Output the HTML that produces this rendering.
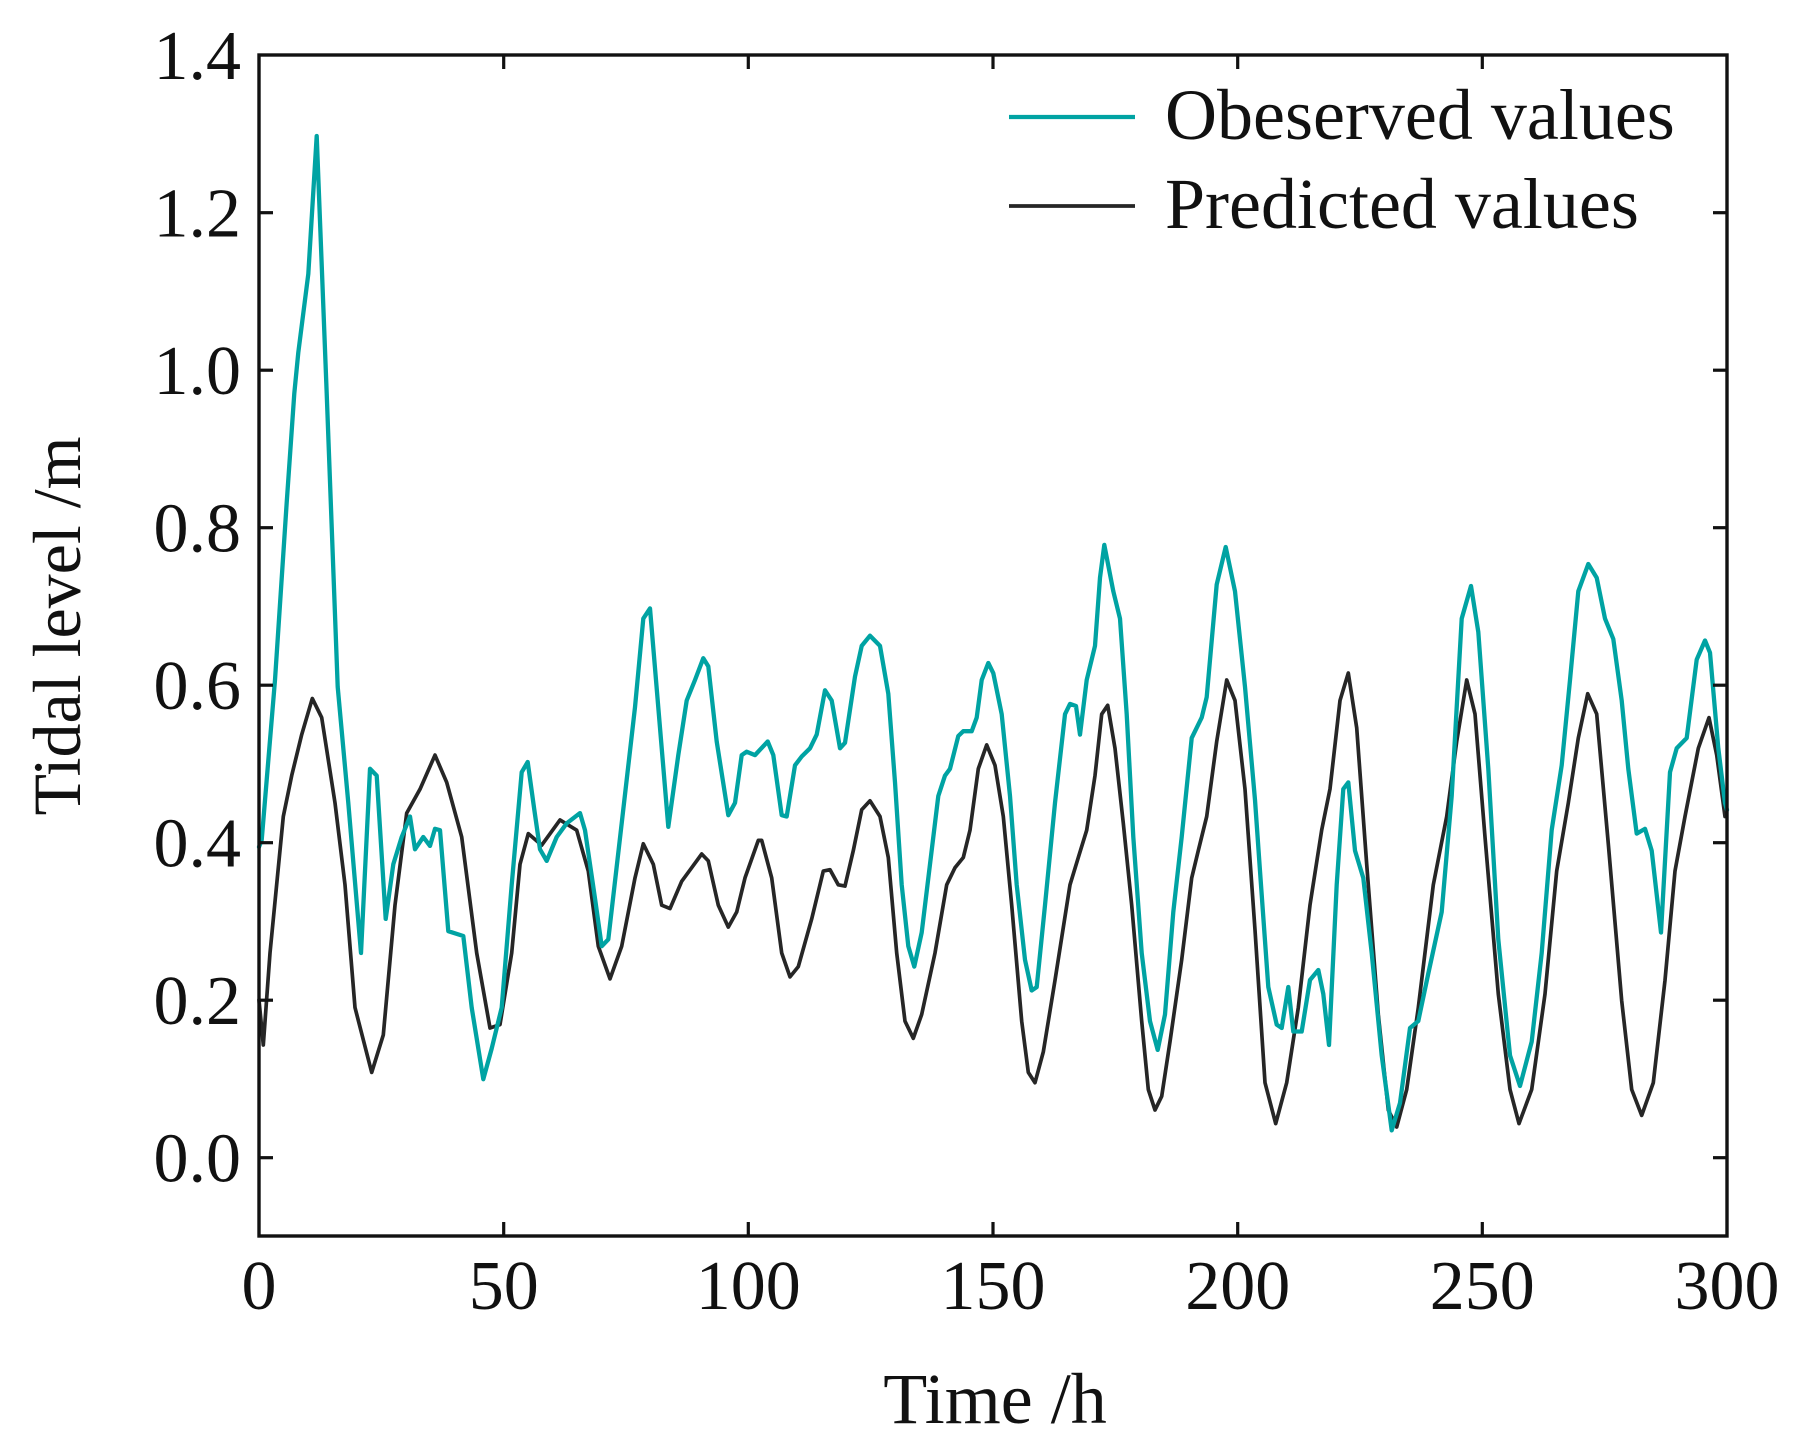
<!DOCTYPE html>
<html>
<head>
<meta charset="utf-8">
<style>
  html, body { margin: 0; padding: 0; background: #ffffff; }
  svg { display: block; }
  text { font-family: "Liberation Serif", "Times New Roman", serif; fill: #111; }
</style>
</head>
<body>
<svg width="1797" height="1456" viewBox="0 0 1797 1456" xmlns="http://www.w3.org/2000/svg">
  <rect x="0" y="0" width="1797" height="1456" fill="#ffffff"/>

  <!-- Predicted (black) -->
  <polyline fill="none" stroke="#262626" stroke-width="3.7" stroke-linejoin="round" stroke-linecap="round"
    points="259,1000 263.3,1045 270,953 283.3,816.5 291.7,775.6 301.7,734.6 312.3,698.5 321.7,717.6 335,802.9 345,884.8 355,1007.6 371.7,1072.4 383.3,1034.9 395,905.2 406.7,813.1 420,789.2 435,755.1 446.7,782.4 461.7,837 476.7,953 490,1028 500,1024.6 511.7,953 520,864.3 528.3,833.6 541.7,845.2 560,819.9 576.7,830.2 588.3,871.1 598.3,946.2 610,978.9 621.7,946.2 635,877.9 643.3,843.8 653.3,864.3 661.7,905.2 670,908.6 681.7,881.3 691.7,867.7 701.7,854 708.3,860.9 718.3,905.2 728.3,927.1 736.7,912 745,877.9 758.3,840.4 761.7,840.4 771.7,877.9 781.7,953 790,976.9 798.3,966.6 811.7,918.9 823.3,871.1 830,869.7 838.3,884.8 845,886.1 853.3,850.6 861.7,809.7 870,800.8 880,816.5 888.3,857.5 896.7,953 905,1021.2 913.3,1038.3 921.7,1014.4 935,953 946.7,884.8 955,867.7 963.3,857.5 970,830.2 978.3,768.8 986.7,744.9 995,765.3 1003.3,816.5 1011.7,905.2 1021.7,1021.2 1028.3,1072.4 1035,1082.7 1043.3,1051.9 1055,980.3 1070,884.8 1078.3,857.5 1086.7,830.2 1095,775.6 1101.7,714.2 1107.7,705.3 1115,748.3 1123.3,823.3 1131.7,905.2 1141.7,1021.2 1148.3,1089.5 1155,1110 1161.7,1096.3 1170,1041.7 1181.7,959.8 1191.7,877.9 1198.3,850.6 1206.7,816.5 1216.7,741.5 1226.7,680 1235,700.5 1245,789.2 1255,930 1265,1082.7 1275.7,1123.6 1286.7,1082.7 1298.3,1007.6 1310,905 1321.7,830 1330,789 1340,700.5 1348.3,673 1356.7,727.8 1366.7,864.3 1378.3,1014.4 1388.3,1110 1396.7,1127 1406.7,1089.5 1418.3,1007.6 1433.3,884.8 1446.7,816.5 1456.7,741.5 1466.7,680 1475,714 1485,837 1498.3,994 1510,1089.5 1519,1123.6 1531.7,1089.5 1545,994 1556.7,871 1568.3,803 1578.3,738 1587.7,693.7 1596.7,714 1608.3,843.8 1621.7,1000.8 1631.7,1089.5 1641.7,1115.4 1653.3,1082.7 1665,980.3 1675,871 1685,816.5 1698.3,748.3 1709,717.6 1716.7,755 1725,816.5"/>

  <!-- Observed (teal) -->
  <polyline fill="none" stroke="#00a3a3" stroke-width="4.3" stroke-linejoin="round" stroke-linecap="round"
    points="259,847 261.7,840 275,680 286.7,502.6 294.3,393.4 298.3,352.5 308.3,274 316.7,136 326.7,393.4 337.7,686.9 348.3,802.9 361,953 370,768.8 376.7,775.6 385.7,918.9 393.3,864.3 401.7,837 410,816.5 415,849.3 423.3,837 430,845.9 435,828.8 440,830.2 448.3,931.2 463.3,936 471.7,1007.6 483.3,1079.2 491.7,1048.5 501.7,1007.6 511.7,884.8 521.7,772.2 527.7,762 534.3,809.7 540,849.3 546.7,860.9 556.7,837 566.7,823.3 580,813.1 585,830.2 595,898.4 601.7,946.2 608.3,939.4 621.7,823.3 635,707.3 643.3,618.6 650,608.4 660,727.8 668.3,826.8 678.3,755.1 686.7,700.5 695,680 703.3,658.2 708.3,666.4 716.7,741.5 728.3,815.2 735,802.9 741.7,755.1 746.7,751.7 755,755.1 767.7,741.5 773.3,755.1 781.7,815.2 786.7,816.5 795,765.3 801.7,756.5 810,748.3 816.7,734.6 825,690.3 831.7,700.5 840,748.3 845,742.8 855,676.6 861.7,645.9 870,635.7 880,645.9 888.3,693.7 895,782.4 901.7,884.8 908.3,946.2 914.3,966.6 921.7,932.5 930,864.3 938.3,796 945,775.6 950,768.8 958.3,736 963.3,731.2 971.7,731.2 976.7,717.6 981.7,680 988.3,663 993.3,673.2 1001.7,714.2 1010,796 1016.7,884.8 1025,959.8 1031.7,990.5 1036.7,987.1 1045,905.2 1055,802.9 1065,714.2 1070,703.9 1076,706 1080,734.6 1086.7,680 1095,645.9 1100,577.7 1104.3,544.9 1113.3,591.3 1120,618.6 1126.7,714.2 1133.3,837 1141.7,953 1150,1021.2 1157.7,1049.9 1165,1014.4 1173.3,912 1181.7,837 1191.7,738 1201.7,717.6 1206.7,697.1 1216.7,584.5 1225.7,547 1235,591.3 1245,686.9 1255,800 1260,871 1268.3,987 1276.7,1024.6 1281.7,1028 1288.3,987 1293.3,1031.5 1301.7,1031.5 1310,980 1318.3,970 1323.3,994 1329,1045 1336.7,884.8 1343.3,789 1348.3,782.4 1355,850.6 1363.3,878 1371.7,953 1381.7,1055.4 1391.7,1130.4 1400,1103 1410,1028 1418.3,1021 1428.3,973.5 1441.7,912 1451.7,796 1461.7,618.6 1471,586 1478.3,632 1488.3,768.8 1498.3,939.4 1510,1055.4 1520,1086 1531.7,1041.7 1541.7,953 1551.7,830 1561.7,765.3 1570,680 1578.3,591.3 1588.3,564 1596.7,577.7 1605,618.6 1613.3,639 1621.7,700.5 1628.3,768.8 1636.7,833.6 1645,828.8 1651.7,850.6 1661,932.5 1670,772.2 1676.7,748.3 1686.7,738 1696.7,659.6 1705,640.5 1710,652.7 1718.3,748.3 1725,803 1727,810"/>

  <!-- Frame -->
  <rect x="259" y="55" width="1468" height="1181" fill="none" stroke="#111" stroke-width="3.4"/>

  <!-- Ticks -->
  <g stroke="#111" stroke-width="3.2">
    <line x1="259" y1="1157.7" x2="273" y2="1157.7"/>
    <line x1="259" y1="1000.2" x2="273" y2="1000.2"/>
    <line x1="259" y1="842.7" x2="273" y2="842.7"/>
    <line x1="259" y1="685.2" x2="273" y2="685.2"/>
    <line x1="259" y1="527.7" x2="273" y2="527.7"/>
    <line x1="259" y1="370.2" x2="273" y2="370.2"/>
    <line x1="259" y1="212.7" x2="273" y2="212.7"/>

    <line x1="1727" y1="1157.7" x2="1713" y2="1157.7"/>
    <line x1="1727" y1="1000.2" x2="1713" y2="1000.2"/>
    <line x1="1727" y1="842.7" x2="1713" y2="842.7"/>
    <line x1="1727" y1="685.2" x2="1713" y2="685.2"/>
    <line x1="1727" y1="527.7" x2="1713" y2="527.7"/>
    <line x1="1727" y1="370.2" x2="1713" y2="370.2"/>
    <line x1="1727" y1="212.7" x2="1713" y2="212.7"/>

    <line x1="503.7" y1="1236" x2="503.7" y2="1222"/>
    <line x1="748.3" y1="1236" x2="748.3" y2="1222"/>
    <line x1="993" y1="1236" x2="993" y2="1222"/>
    <line x1="1237.7" y1="1236" x2="1237.7" y2="1222"/>
    <line x1="1482.3" y1="1236" x2="1482.3" y2="1222"/>

    <line x1="503.7" y1="55" x2="503.7" y2="69"/>
    <line x1="748.3" y1="55" x2="748.3" y2="69"/>
    <line x1="993" y1="55" x2="993" y2="69"/>
    <line x1="1237.7" y1="55" x2="1237.7" y2="69"/>
    <line x1="1482.3" y1="55" x2="1482.3" y2="69"/>
  </g>

  <!-- Y tick labels -->
  <g font-size="70" text-anchor="end">
    <text x="241" y="1181.7">0.0</text>
    <text x="241" y="1024.2">0.2</text>
    <text x="241" y="866.7">0.4</text>
    <text x="241" y="709.2">0.6</text>
    <text x="241" y="551.7">0.8</text>
    <text x="241" y="394.2">1.0</text>
    <text x="241" y="236.7">1.2</text>
    <text x="241" y="79">1.4</text>
  </g>

  <!-- X tick labels -->
  <g font-size="70" text-anchor="middle">
    <text x="259" y="1309">0</text>
    <text x="503.7" y="1309">50</text>
    <text x="748.3" y="1309">100</text>
    <text x="993" y="1309">150</text>
    <text x="1237.7" y="1309">200</text>
    <text x="1482.3" y="1309">250</text>
    <text x="1727" y="1309">300</text>
  </g>

  <!-- Axis titles -->
  <text x="995" y="1423" font-size="72" text-anchor="middle">Time /h</text>
  <text x="0" y="0" font-size="68" text-anchor="middle" transform="translate(80,626) rotate(-90)">Tidal level /m</text>

  <!-- Legend -->
  <line x1="1009" y1="117" x2="1135" y2="117" stroke="#00a3a3" stroke-width="4.3"/>
  <line x1="1009" y1="206" x2="1135" y2="206" stroke="#262626" stroke-width="3.7"/>
  <text x="1165" y="139" font-size="72">Obeserved values</text>
  <text x="1165" y="228" font-size="72">Predicted values</text>
</svg>
</body>
</html>
